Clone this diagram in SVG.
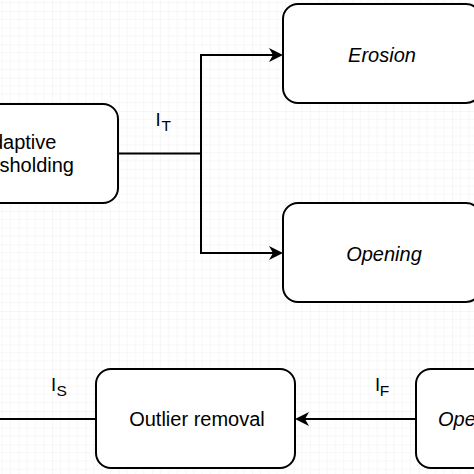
<svg xmlns="http://www.w3.org/2000/svg" width="474" height="474" viewBox="0 0 474 474">
  <style>
    .box { fill: #ffffff; stroke: #000000; stroke-width: 2; }
    .txt { font-family: "Liberation Sans", Arial, sans-serif; font-size: 20px; fill: #000000; }
    .it { font-style: italic; }
    .lbl { font-family: "Liberation Sans", Arial, sans-serif; font-size: 18.5px; fill: #000000; }
    .sub { font-size: 15.5px; }
    .edge { fill: none; stroke: #000000; stroke-width: 2; }
  </style>
  <defs>
    <pattern id="grid" patternUnits="userSpaceOnUse" x="18.8" y="11" width="33.33" height="33.33">
      <path d="M8.33,0 V33.33 M16.67,0 V33.33 M25,0 V33.33 M0,8.33 H33.33 M0,16.67 H33.33 M0,25 H33.33" stroke="#f7f7f7" stroke-width="1" fill="none"/>
      <path d="M0,0 V33.33 M0,0 H33.33" stroke="#ededed" stroke-width="1" fill="none"/>
    </pattern>
    <marker id="arrow" viewBox="-15 -8 16 16" markerWidth="16" markerHeight="16" refX="-10" refY="0" orient="auto" markerUnits="userSpaceOnUse">
      <path d="M0,0 L-14,-7 L-10,0 L-14,7 Z" fill="#000000" stroke="none"/>
    </marker>
  </defs>
  <rect x="0" y="0" width="474" height="474" fill="#ffffff"/>
  <rect x="0" y="0" width="474" height="474" fill="url(#grid)"/>

  <g id="connectors">
    <path class="edge" d="M118,153.5 H201 V55 H273" marker-end="url(#arrow)"/>
    <path class="edge" d="M201,153.5 V253 H273" marker-end="url(#arrow)"/>
    <path class="edge" d="M416,419 H305" marker-end="url(#arrow)"/>
    <path class="edge" d="M96,419 H-10"/>
    <text class="lbl" x="155.5" y="126">I<tspan class="sub" x="161.5" y="130.7">T</tspan></text>
    <text class="lbl" x="51" y="391">I<tspan class="sub" x="56.5" y="395.7">S</tspan></text>
    <text class="lbl" x="375" y="391">I<tspan class="sub" x="379.8" y="396">F</tspan></text>
  </g>

  <g id="adaptive-thresholding">
    <rect class="box" x="-80" y="104" width="198" height="99" rx="15" ry="15"/>
    <text class="txt" text-anchor="middle" x="17.5" y="149">Adaptive</text>
    <text class="txt" text-anchor="middle" x="19.5" y="172">thresholding</text>
  </g>

  <g id="erosion">
    <rect class="box" x="283" y="4" width="198" height="99" rx="15" ry="15"/>
    <text class="txt it" text-anchor="middle" x="382" y="62">Erosion</text>
  </g>

  <g id="opening">
    <rect class="box" x="283" y="203" width="198" height="99" rx="15" ry="15"/>
    <text class="txt it" text-anchor="middle" x="384" y="261">Opening</text>
  </g>

  <g id="outlier-removal">
    <rect class="box" x="96" y="369" width="199" height="99" rx="15" ry="15"/>
    <text class="txt" text-anchor="middle" x="197" y="426">Outlier removal</text>
  </g>

  <g id="opening-2">
    <rect class="box" x="416" y="369" width="198" height="99" rx="15" ry="15"/>
    <text class="txt it" x="438" y="426">Opening</text>
  </g>
</svg>
